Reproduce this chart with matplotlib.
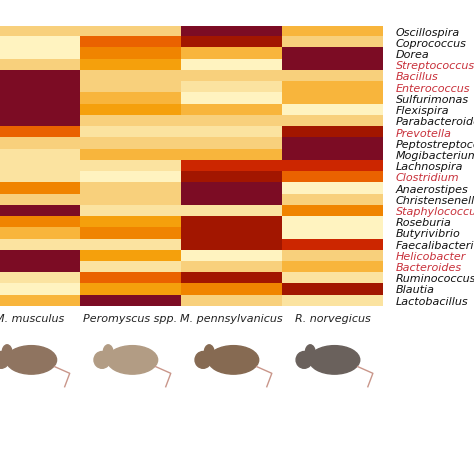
import numpy as np
import matplotlib.pyplot as plt
from matplotlib.colors import ListedColormap
from matplotlib.patches import Ellipse, Circle

species = ['M. musculus', 'Peromyscus spp.', 'M. pennsylvanicus', 'R. norvegicus']
genera = ['Oscillospira', 'Coprococcus', 'Dorea', 'Streptococcus', 'Bacillus',
          'Enterococcus', 'Sulfurimonas', 'Flexispira', 'Parabacteroides', 'Prevotella',
          'Peptostreptococcus', 'Mogibacterium', 'Lachnospira', 'Clostridium',
          'Anaerostipes', 'Christensenella', 'Staphylococcus', 'Roseburia',
          'Butyrivibrio', 'Faecalibacterium', 'Helicobacter', 'Bacteroides',
          'Ruminococcus', 'Blautia', 'Lactobacillus']
red_genera = ['Streptococcus', 'Bacillus', 'Enterococcus', 'Prevotella',
              'Clostridium', 'Staphylococcus', 'Helicobacter', 'Bacteroides']
levels = [
    [2, 2, 9, 3], [0, 6, 8, 2], [0, 5, 3, 9], [2, 4, 0, 9], [9, 2, 2, 2],
    [9, 2, 1, 3], [9, 3, 0, 3], [9, 4, 3, 0], [9, 2, 2, 2], [6, 1, 1, 8],
    [2, 2, 2, 9], [1, 3, 3, 9], [1, 1, 7, 7], [1, 0, 8, 6], [5, 2, 9, 0],
    [2, 2, 9, 2], [9, 1, 1, 5], [5, 4, 8, 0], [3, 5, 8, 0], [1, 1, 8, 7],
    [9, 4, 0, 2], [9, 1, 2, 3], [1, 6, 8, 1], [0, 4, 5, 8], [3, 9, 2, 1],
]
mouse_colors = ['#8f7460', '#b29c84', '#866a52', '#6a615c']

colors = ['#fff3c0', '#fbe3a0', '#f8d07c', '#f8b53c', '#f5a00c',
          '#f08400', '#ea6200', '#cc2600', '#a21600', '#7c0c24']
cmap = ListedColormap(colors)

fig = plt.figure(figsize=(4.74, 4.74), dpi=100)
ax = fig.add_axes([0, 0.354, 0.808, 0.591])
ax.imshow(np.array(levels), cmap=cmap, vmin=-0.5, vmax=9.5, aspect='auto',
          interpolation='nearest')
ax.set_xlim(-0.29, 3.5)
ax.set_ylim(len(genera) - 0.5, -0.5)
for s in ax.spines.values():
    s.set_visible(False)
ax.set_xticks([])
ax.yaxis.tick_right()
ax.set_yticks(range(len(genera)))
ax.set_yticklabels(genera, fontsize=8, style='italic')
ax.tick_params(axis='y', length=0, pad=9)
for lab in ax.get_yticklabels():
    lab.set_color('#c8303a' if lab.get_text() in red_genera else '#111111')

xpos = [0.0, 1.0, 2.0, 3.0]
for x, s in zip(xpos, species):
    ax.text(x, len(genera) + 0.6, s, ha='center', va='center', fontsize=8,
            style='italic', color='#222222')

# simple mouse silhouettes under the columns
ax2 = fig.add_axes([0, 0.0, 0.808, 0.354])
ax2.set_xlim(-0.29, 3.5)
ax2.set_ylim(0, 1)
ax2.axis('off')
for x, c in zip(xpos, mouse_colors):
    ax2.add_patch(Ellipse((x + 0.02, 0.68), 0.5, 0.17, color=c))
    ax2.add_patch(Circle((x - 0.22, 0.72), 0.05, color=c))
    ax2.add_patch(Ellipse((x - 0.28, 0.68), 0.16, 0.1, color=c))
    ax2.plot([x + 0.25, x + 0.4, x + 0.35], [0.64, 0.6, 0.52], color='#c9968a', lw=1)

fig.savefig('out.png', dpi=100)
